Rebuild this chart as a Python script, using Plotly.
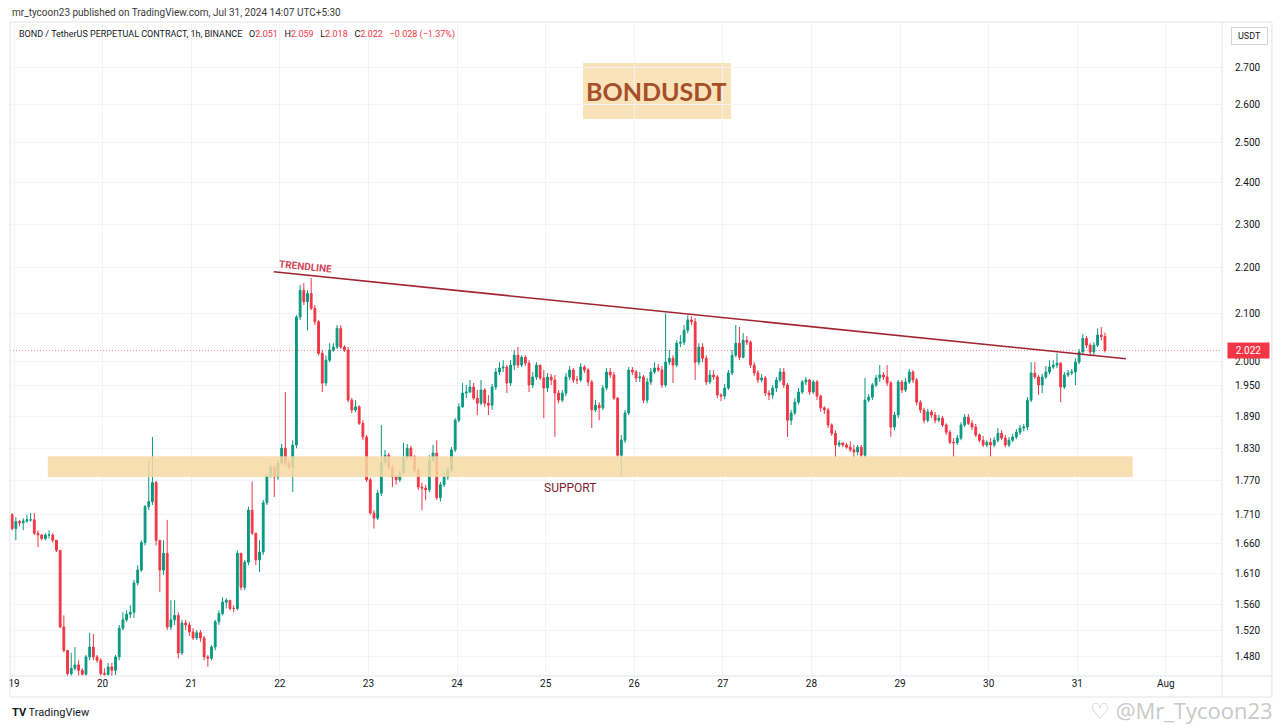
import math
import pandas as pd
import plotly.graph_objects as go

# ---------------- data ----------------
first_open = 1.710
closes = [
    1.686, 1.698, 1.696, 1.699, 1.701, 1.701, 1.678, 1.675, 1.669, 1.675,
    1.675, 1.666, 1.649, 1.525, 1.489, 1.454, 1.462, 1.467, 1.459, 1.453,
    1.479, 1.494, 1.479, 1.474, 1.454, 1.453, 1.464, 1.459, 1.479, 1.523,
    1.536, 1.545, 1.548, 1.595, 1.616, 1.662, 1.724, 1.733, 1.767, 1.666,
    1.616, 1.644, 1.525, 1.536, 1.543, 1.485, 1.531, 1.528, 1.517, 1.508,
    1.516, 1.508, 1.479, 1.477, 1.494, 1.533, 1.546, 1.564, 1.567, 1.554,
    1.554, 1.644, 1.588, 1.629, 1.718, 1.678, 1.633, 1.646, 1.731, 1.779,
    1.795, 1.777, 1.802, 1.830, 1.802, 1.795, 1.836, 2.092, 2.150, 2.125,
    2.143, 2.111, 2.082, 2.016, 1.956, 2.002, 2.023, 2.029, 2.068, 2.029,
    2.023, 1.922, 1.903, 1.909, 1.877, 1.851, 1.772, 1.713, 1.704, 1.748,
    1.804, 1.817, 1.795, 1.777, 1.772, 1.785, 1.812, 1.830, 1.814, 1.790,
    1.759, 1.757, 1.754, 1.808, 1.821, 1.740, 1.763, 1.777, 1.790, 1.827,
    1.883, 1.909, 1.936, 1.938, 1.948, 1.926, 1.916, 1.942, 1.916, 1.912,
    1.948, 1.978, 1.986, 1.988, 1.956, 1.992, 2.012, 1.992, 2.008, 1.996,
    1.952, 1.968, 1.992, 1.966, 1.946, 1.968, 1.962, 1.936, 1.922, 1.936,
    1.968, 1.982, 1.962, 1.962, 1.988, 1.982, 1.958, 1.903, 1.912, 1.907,
    1.946, 1.978, 1.972, 1.926, 1.817, 1.845, 1.897, 1.982, 1.978, 1.966,
    1.968, 1.922, 1.958, 1.978, 1.986, 1.982, 1.952, 1.998, 2.006, 1.992,
    2.037, 2.039, 2.064, 2.086, 2.082, 1.998, 2.029, 2.006, 1.958, 1.972,
    1.968, 1.932, 1.930, 1.946, 1.976, 2.012, 2.037, 2.008, 2.043, 2.039,
    1.992, 1.976, 1.962, 1.966, 1.936, 1.932, 1.946, 1.962, 1.978, 1.952,
    1.883, 1.897, 1.918, 1.938, 1.958, 1.962, 1.938, 1.958, 1.930, 1.907,
    1.903, 1.874, 1.858, 1.836, 1.840, 1.836, 1.832, 1.827, 1.823, 1.832,
    1.817, 1.922, 1.928, 1.952, 1.966, 1.972, 1.968, 1.956, 1.870, 1.893,
    1.958, 1.942, 1.958, 1.978, 1.962, 1.918, 1.903, 1.883, 1.899, 1.893,
    1.883, 1.887, 1.874, 1.860, 1.841, 1.840, 1.849, 1.874, 1.889, 1.877,
    1.870, 1.855, 1.845, 1.836, 1.841, 1.836, 1.845, 1.858, 1.849, 1.836,
    1.845, 1.851, 1.860, 1.868, 1.870, 1.922, 1.976, 1.968, 1.952, 1.968,
    1.978, 1.988, 1.992, 1.996, 1.948, 1.972, 1.976, 1.978, 1.998, 2.019,
    2.047, 2.033, 2.019, 2.033, 2.054, 2.051, 2.022,
]
highs = [
    1.713, 1.706, 1.701, 1.704, 1.710, 1.713, 1.713, 1.683, 1.676, 1.678,
    1.683, 1.678, 1.666, 1.649, 1.543, 1.489, 1.485, 1.494, 1.474, 1.462,
    1.482, 1.516, 1.514, 1.482, 1.477, 1.462, 1.470, 1.470, 1.482, 1.528,
    1.548, 1.551, 1.559, 1.600, 1.624, 1.666, 1.727, 1.808, 1.851, 1.770,
    1.666, 1.666, 1.701, 1.567, 1.567, 1.548, 1.536, 1.536, 1.533, 1.523,
    1.520, 1.520, 1.511, 1.482, 1.497, 1.536, 1.551, 1.572, 1.570, 1.567,
    1.559, 1.649, 1.644, 1.633, 1.724, 1.769, 1.678, 1.666, 1.736, 1.783,
    1.802, 1.799, 1.808, 1.838, 1.938, 1.808, 1.845, 2.096, 2.162, 2.166,
    2.150, 2.177, 2.118, 2.086, 2.023, 2.012, 2.037, 2.037, 2.075, 2.075,
    2.033, 2.029, 1.926, 1.922, 1.912, 1.883, 1.855, 1.776, 1.718, 1.754,
    1.874, 1.827, 1.821, 1.799, 1.781, 1.790, 1.840, 1.838, 1.834, 1.817,
    1.794, 1.767, 1.763, 1.817, 1.836, 1.845, 1.768, 1.785, 1.795, 1.832,
    1.887, 1.916, 1.956, 1.952, 1.962, 1.956, 1.942, 1.962, 1.946, 1.932,
    1.954, 1.986, 1.998, 2.002, 1.992, 2.002, 2.023, 2.029, 2.012, 2.012,
    2.002, 1.978, 1.998, 1.986, 1.982, 1.976, 1.974, 1.972, 1.942, 1.942,
    1.976, 1.990, 1.986, 1.970, 1.996, 1.992, 1.986, 1.962, 1.922, 1.918,
    1.952, 1.986, 1.986, 1.978, 1.928, 1.855, 1.903, 1.988, 1.988, 1.982,
    1.978, 1.972, 1.966, 1.986, 1.998, 1.994, 1.990, 2.100, 2.023, 2.012,
    2.043, 2.054, 2.075, 2.096, 2.094, 2.090, 2.037, 2.037, 2.012, 1.982,
    1.982, 1.972, 1.936, 1.954, 1.982, 2.023, 2.075, 2.071, 2.058, 2.052,
    2.043, 1.998, 1.982, 1.974, 1.970, 1.942, 1.952, 1.968, 1.986, 1.986,
    1.956, 1.903, 1.926, 1.946, 1.962, 1.968, 1.964, 1.962, 1.962, 1.932,
    1.910, 1.907, 1.877, 1.864, 1.845, 1.840, 1.840, 1.843, 1.836, 1.836,
    1.836, 1.966, 1.934, 1.956, 1.972, 1.992, 1.978, 1.992, 1.960, 1.899,
    1.962, 1.962, 1.966, 1.984, 1.982, 1.966, 1.922, 1.907, 1.905, 1.903,
    1.899, 1.893, 1.891, 1.877, 1.864, 1.849, 1.855, 1.879, 1.895, 1.895,
    1.883, 1.876, 1.858, 1.853, 1.845, 1.849, 1.851, 1.868, 1.864, 1.855,
    1.851, 1.857, 1.866, 1.874, 1.876, 1.928, 1.998, 1.998, 1.972, 1.974,
    1.990, 2.002, 2.002, 2.016, 1.998, 1.978, 1.982, 1.984, 2.006, 2.025,
    2.056, 2.052, 2.037, 2.039, 2.068, 2.071, 2.059,
]
lows = [
    1.683, 1.666, 1.690, 1.683, 1.696, 1.698, 1.675, 1.654, 1.666, 1.666,
    1.669, 1.662, 1.646, 1.523, 1.486, 1.445, 1.450, 1.459, 1.450, 1.445,
    1.450, 1.474, 1.474, 1.470, 1.445, 1.445, 1.445, 1.448, 1.452, 1.474,
    1.520, 1.533, 1.539, 1.539, 1.591, 1.613, 1.657, 1.718, 1.727, 1.657,
    1.580, 1.608, 1.520, 1.520, 1.528, 1.477, 1.482, 1.520, 1.511, 1.505,
    1.505, 1.502, 1.474, 1.464, 1.474, 1.489, 1.528, 1.543, 1.554, 1.551,
    1.548, 1.551, 1.583, 1.583, 1.624, 1.675, 1.624, 1.613, 1.641, 1.727,
    1.776, 1.741, 1.772, 1.799, 1.797, 1.790, 1.750, 1.830, 2.086, 2.118,
    2.064, 2.107, 2.075, 2.012, 1.938, 1.950, 1.998, 2.019, 2.025, 2.025,
    2.019, 1.918, 1.897, 1.899, 1.874, 1.845, 1.768, 1.710, 1.686, 1.701,
    1.743, 1.799, 1.790, 1.759, 1.763, 1.768, 1.781, 1.808, 1.808, 1.785,
    1.754, 1.718, 1.736, 1.750, 1.804, 1.736, 1.733, 1.759, 1.772, 1.786,
    1.823, 1.879, 1.907, 1.926, 1.936, 1.922, 1.893, 1.912, 1.909, 1.893,
    1.903, 1.942, 1.972, 1.978, 1.936, 1.950, 1.982, 1.986, 1.988, 1.990,
    1.938, 1.946, 1.962, 1.962, 1.887, 1.938, 1.952, 1.851, 1.916, 1.918,
    1.930, 1.962, 1.956, 1.954, 1.958, 1.976, 1.950, 1.868, 1.899, 1.883,
    1.903, 1.942, 1.966, 1.922, 1.814, 1.777, 1.840, 1.893, 1.972, 1.958,
    1.958, 1.916, 1.916, 1.952, 1.974, 1.978, 1.946, 1.948, 1.992, 1.956,
    1.988, 2.029, 2.033, 2.058, 2.075, 1.962, 1.992, 1.998, 1.952, 1.954,
    1.962, 1.926, 1.920, 1.924, 1.942, 1.972, 2.008, 2.002, 2.006, 2.033,
    1.986, 1.970, 1.956, 1.958, 1.930, 1.922, 1.924, 1.938, 1.958, 1.946,
    1.851, 1.874, 1.893, 1.914, 1.934, 1.952, 1.932, 1.934, 1.922, 1.899,
    1.895, 1.868, 1.853, 1.812, 1.832, 1.832, 1.829, 1.823, 1.812, 1.817,
    1.812, 1.812, 1.918, 1.922, 1.948, 1.958, 1.962, 1.950, 1.851, 1.864,
    1.887, 1.936, 1.938, 1.954, 1.956, 1.912, 1.897, 1.877, 1.879, 1.887,
    1.877, 1.879, 1.870, 1.855, 1.838, 1.814, 1.836, 1.845, 1.870, 1.874,
    1.864, 1.851, 1.841, 1.832, 1.832, 1.814, 1.832, 1.841, 1.845, 1.832,
    1.832, 1.841, 1.847, 1.855, 1.862, 1.864, 1.918, 1.964, 1.932, 1.936,
    1.964, 1.974, 1.984, 1.986, 1.918, 1.944, 1.968, 1.972, 1.952, 1.994,
    2.014, 2.027, 2.010, 2.012, 2.029, 2.043, 2.018,
]
opens = [first_open] + closes[:-1]
times = pd.date_range("2024-07-18 23:30", periods=len(closes), freq="h")

day_ticks = pd.date_range("2024-07-19", "2024-08-01", freq="D")
day_labels = ["19", "20", "21", "22", "23", "24", "25", "26", "27", "28",
              "29", "30", "31", "Aug"]

price_ticks = [2.7, 2.6, 2.5, 2.4, 2.3, 2.2, 2.1, 2.0, 1.95, 1.89, 1.83,
               1.77, 1.71, 1.66, 1.61, 1.56, 1.52, 1.48]
price_labels = ["2.700", "2.600", "2.500", "2.400", "2.300", "2.200", "2.100",
                "2.000", "1.950", "1.890", "1.830", "1.770", "1.710", "1.660",
                "1.610", "1.560", "1.520", "1.480"]

trend_time = ["2024-07-21 22:20", "2024-07-31 13:10"]
trend_price = [2.191, 2.005]
support_time = ["2024-07-19 09:10", "2024-07-31 15:00"]
support_low, support_high = 1.777, 1.815
last_price = 2.022

x_range = ["2024-07-18 22:55", "2024-08-01 15:12"]
y_lo, y_hi = 1.4505, 2.827

UP = "#089981"
DN = "#F23645"
FONT = "Roboto"

# ---------------- figure ----------------
fig = go.Figure()

fig.add_trace(go.Scatter(
    x=[support_time[0], support_time[1], support_time[1], support_time[0], support_time[0]],
    y=[support_low, support_low, support_high, support_high, support_low],
    fill="toself", fillcolor="rgba(246,217,165,0.85)", mode="lines",
    line=dict(width=0), hoverinfo="skip", showlegend=False))

fig.add_trace(go.Scatter(
    x=x_range, y=[last_price, last_price], mode="lines",
    line=dict(color="rgba(242,54,69,0.6)", width=1, dash="1px,2px"),
    hoverinfo="skip", showlegend=False))

fig.add_trace(go.Candlestick(
    x=times, open=opens, high=highs, low=lows, close=closes,
    increasing=dict(line=dict(color=UP, width=1), fillcolor=UP),
    decreasing=dict(line=dict(color=DN, width=1), fillcolor=DN),
    whiskerwidth=0, hoverinfo="skip", showlegend=False))

fig.add_trace(go.Scatter(
    x=trend_time, y=trend_price, mode="lines",
    line=dict(color="#A1232F", width=1.6), hoverinfo="skip", showlegend=False))

L_M, R_M, T_M, B_M = 8, 58, 22, 50
W, H = 1280, 726
PW, PH = W - L_M - R_M, H - T_M - B_M


def px(xp):
    return (xp - L_M) / PW


def py(yp):
    return (H - B_M - yp) / PH


shapes = [
    dict(type="rect", xref="paper", yref="paper", x0=px(8), x1=px(1272),
         y0=py(697), y1=py(22), line=dict(color="#E0E3EB", width=1)),
    dict(type="line", xref="paper", yref="paper", x0=1, x1=1, y0=py(697), y1=py(22),
         line=dict(color="#E0E3EB", width=1)),
    dict(type="line", xref="paper", yref="paper", x0=0, x1=px(1272), y0=0, y1=0,
         line=dict(color="#E0E3EB", width=1)),
    dict(type="rect", xref="paper", yref="paper", x0=px(582), x1=px(730),
         y0=py(119), y1=py(63), fillcolor="#FAE2B9", line=dict(width=0), layer="below"),
]

SEP = "&nbsp;&nbsp;&nbsp;"
annotations = [
    dict(xref="paper", yref="paper", x=px(8), y=py(12), xanchor="left", yanchor="middle",
         text="mr_tycoon23 published on TradingView.com, Jul 31, 2024 14:07 UTC+5:30",
         showarrow=False, font=dict(family=FONT, size=10, color="#3a3a3a")),
    dict(xref="paper", yref="paper", x=px(15), y=py(35), xanchor="left", yanchor="middle",
         text=("BOND / TetherUS PERPETUAL CONTRACT, 1h, BINANCE" + SEP +
               "O<span style='color:#F23645'>2.051</span>" + SEP +
               "H<span style='color:#F23645'>2.059</span>" + SEP +
               "L<span style='color:#F23645'>2.018</span>" + SEP +
               "C<span style='color:#F23645'>2.022</span>" + SEP +
               "<span style='color:#F23645'>\u22120.028 (\u22121.37%)</span>"),
         showarrow=False, font=dict(family=FONT, size=9, color="#131722")),
    dict(xref="paper", yref="paper", x=px(1249.5), y=py(36), xanchor="center", yanchor="middle",
         text="USDT", showarrow=False, bordercolor="#D1D4DC", borderwidth=1, borderpad=2,
         width=31, height=12, bgcolor="white",
         font=dict(family=FONT, size=9, color="#131722")),
    dict(xref="paper", yref="y", x=1, y=math.log10(last_price), xanchor="left",
         yanchor="middle", xshift=5, text="2.022", showarrow=False, bgcolor="#F23645",
         borderpad=2, width=37, height=11,
         font=dict(family=FONT, size=10, color="white")),
    dict(xref="paper", yref="paper", x=px(656), y=py(91), xanchor="center", yanchor="middle",
         text="<b>BONDUSDT</b>", showarrow=False,
         font=dict(family="Lato", size=25, color="#A4502A")),
    dict(xref="x", yref="y", x="2024-07-22 07:00", y=math.log10(2.203),
         xanchor="center", yanchor="middle", text="<b>TRENDLINE</b>", textangle=5.8,
         showarrow=False, font=dict(family=FONT, size=10, color="#D2455A")),
    dict(xref="x", yref="y", x="2024-07-25 06:30", y=math.log10(1.758),
         xanchor="center", yanchor="middle", text="SUPPORT", showarrow=False,
         font=dict(family=FONT, size=12, color="#7A1E2E")),
    dict(xref="paper", yref="paper", x=px(8), y=py(712), xanchor="left", yanchor="middle",
         text="<b>TV</b> TradingView", showarrow=False,
         font=dict(family=FONT, size=11, color="#131722")),
    dict(xref="paper", yref="paper", x=px(1275), y=py(710), xanchor="right", yanchor="middle",
         text="\u2661 @Mr_Tycoon23", showarrow=False,
         font=dict(family="Open Sans", size=22, color="#C9C9C9")),
]

fig.update_layout(
    width=W, height=H,
    margin=dict(l=L_M, r=R_M, t=T_M, b=B_M),
    paper_bgcolor="white", plot_bgcolor="white",
    showlegend=False,
    shapes=shapes, annotations=annotations,
    xaxis=dict(type="date", range=x_range, rangeslider=dict(visible=False),
               tickvals=list(day_ticks), ticktext=day_labels, showgrid=True,
               gridcolor="#F2F3F6", gridwidth=1, zeroline=False, showline=False,
               ticks="", tickfont=dict(family=FONT, size=10, color="#131722")),
    yaxis=dict(type="log", side="right", range=[math.log10(y_lo), math.log10(y_hi)],
               tickvals=price_ticks, ticktext=price_labels, showgrid=True,
               gridcolor="#F2F3F6", gridwidth=1, zeroline=False, showline=False,
               ticks="", ticklabelstandoff=12,
               tickfont=dict(family=FONT, size=10, color="#131722")),
)

fig.write_html("out.html")
